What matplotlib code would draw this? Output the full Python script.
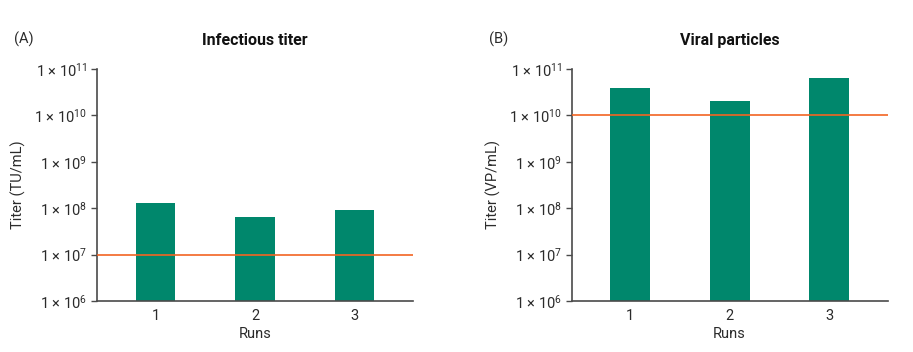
import math

import matplotlib
matplotlib.use("Agg")
import matplotlib.pyplot as plt
from matplotlib.ticker import FixedLocator, FuncFormatter

plt.rcParams["font.family"] = ["Roboto", "DejaVu Sans"]
plt.rcParams["mathtext.fontset"] = "custom"
plt.rcParams["mathtext.rm"] = "Roboto"
plt.rcParams["mathtext.it"] = "Roboto"
plt.rcParams["mathtext.bf"] = "Roboto:bold"

# ── Data ───────────────────────────────────────────────────────────────────
runs = [1, 2, 3]
run_labels = ["1", "2", "3"]
infectious_titer = [1.28e8, 6.3e7, 9.0e7]      # TU/mL
viral_particles = [3.9e10, 2.05e10, 6.4e10]    # VP/mL
infectious_threshold = 1e7
particle_threshold = 1e10
y_ticks = [1e6, 1e7, 1e8, 1e9, 1e10, 1e11]

BAR = "#00876C"
LINE = "#F26522"
TEXT = "#2b2b2b"
SPINE = "#4a4a4a"


def sci_label(v, _pos=None):
    exp = int(round(math.log10(v)))
    return r"1 × 10$^{%d}$" % exp


def draw_panel(ax, values, threshold, title, ylabel, tag):
    ax.bar(runs, values, width=0.4, color=BAR, bottom=1e6, zorder=2)
    ax.axhline(threshold, color=LINE, lw=1.2, zorder=3)
    ax.set_yscale("log")
    ax.set_ylim(1e6, 1e11)
    ax.set_xlim(0.41, 3.59)
    ax.yaxis.set_major_locator(FixedLocator(y_ticks))
    ax.yaxis.set_minor_locator(FixedLocator([]))
    ax.yaxis.set_major_formatter(FuncFormatter(sci_label))
    ax.set_xticks(runs)
    ax.set_xticklabels(run_labels)
    ax.tick_params(axis="y", length=4, width=1, color=SPINE, labelcolor=TEXT,
                   labelsize=10.5, pad=3)
    ax.tick_params(axis="x", length=0, labelcolor=TEXT, labelsize=10.5, pad=6)
    for s in ("top", "right"):
        ax.spines[s].set_visible(False)
    for s in ("left", "bottom"):
        ax.spines[s].set_color(SPINE)
        ax.spines[s].set_linewidth(1.2)
    ax.set_xlabel("Runs", color=TEXT, fontsize=10.5, labelpad=3)
    ax.set_ylabel(ylabel, color=TEXT, fontsize=10.5, labelpad=6)
    ax.set_title(title, color="#111111", fontsize=11.5, fontweight="bold", pad=17)
    ax.text(-0.262, 1.13, tag, transform=ax.transAxes, color=TEXT, fontsize=10.5,
            ha="left", va="center")


fig = plt.figure(figsize=(9.13, 3.52), dpi=100)
ax1 = fig.add_axes([0.1062, 0.145, 0.3462, 0.659])
ax2 = fig.add_axes([0.626, 0.145, 0.3463, 0.659])

draw_panel(ax1, infectious_titer, infectious_threshold, "Infectious titer",
           "Titer (TU/mL)", "(A)")
draw_panel(ax2, viral_particles, particle_threshold, "Viral particles",
           "Titer (VP/mL)", "(B)")

fig.savefig("out.png", dpi=100, facecolor="white")
